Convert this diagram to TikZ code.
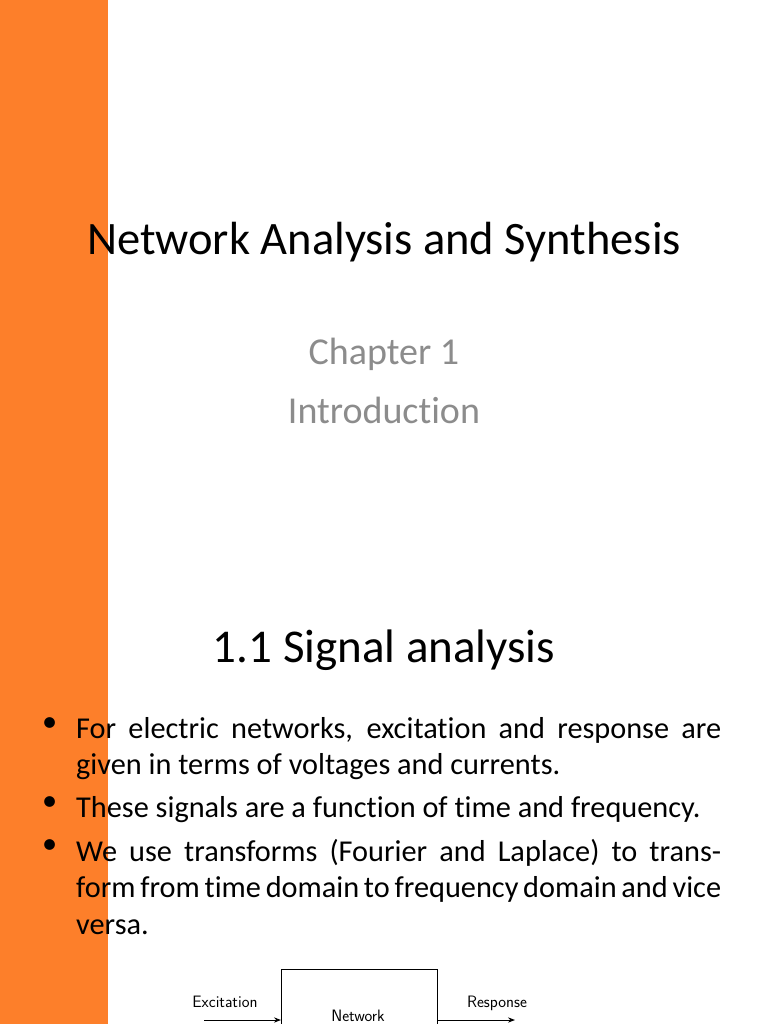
\documentclass[tikz,border=0pt]{standalone}
\usepackage{fontspec}
\setmainfont[Ligatures={NoCommon,NoRare}]{Carlito}
\usetikzlibrary{arrows.meta}
\definecolor{orng}{HTML}{FD7F2A}
\definecolor{gry}{HTML}{8C8C8C}
\newcommand{\nohy}{\hyphenpenalty=10000\exhyphenpenalty=10000\relax}
\begin{document}
\begin{tikzpicture}[x=1pt,y=-1pt,
  bul/.style={anchor=north west,text width=645pt,align=justify,inner sep=0pt,font=\fontsize{30.3}{36.5}\selectfont},
  dot/.style={anchor=north west,inner sep=0pt,font=\fontsize{30.3}{36.5}\selectfont},
  small/.style={font=\sffamily\fontsize{16.5}{18}\selectfont,inner sep=0pt}]
\useasboundingbox (0,0) rectangle (768,1024);
\fill[white] (0,0) rectangle (768,1024);
\fill[orng] (0,0) rectangle (108,1024);
\node (title) at (384,242) {\fontsize{46.5}{50}\selectfont Network Analysis and Synthesis};
\node[text=gry] (ch) at (384,354) {\fontsize{38}{42}\selectfont Chapter 1};
\node[text=gry] (intro) at (384,410) {\fontsize{38}{42}\selectfont Introduction};
\node (sec) at (384,650) {\fontsize{47}{50}\selectfont 1.1 Signal analysis};
\node[bul] (b1) at (76,717) {\nohy For electric networks, excitation and response are given in terms of voltages and currents.};
\node[bul] (b2) at (76,796) {\nohy These signals are a function of time and frequency.};
\node[bul] (b3) at (76,839) {\nohy We use transforms (Fourier and Laplace) to transform from time domain to frequency domain and vice versa.};
\node[dot] (d1) at (42,717) {•};
\node[dot] (d2) at (42,796) {•};
\node[dot] (d3) at (42,839) {•};
\draw[line width=1pt] (281,1030) -- (281,969) -- (437,969) -- (437,1030);
\node[small] (net) at (358,1016) {Network};
\coordinate (inA) at (204,1020);
\coordinate (inB) at (281,1020);
\coordinate (outA) at (437,1020);
\coordinate (outB) at (515,1020);
\draw[line width=1pt,-{Stealth[length=7pt]}] (inA) -- (inB);
\draw[line width=1pt,-{Stealth[length=7pt]}] (outA) -- (outB);
\node[small] (exc) at (225,1002) {Excitation};
\node[small] (resp) at (497,1003) {Response};
\end{tikzpicture}
\end{document}
